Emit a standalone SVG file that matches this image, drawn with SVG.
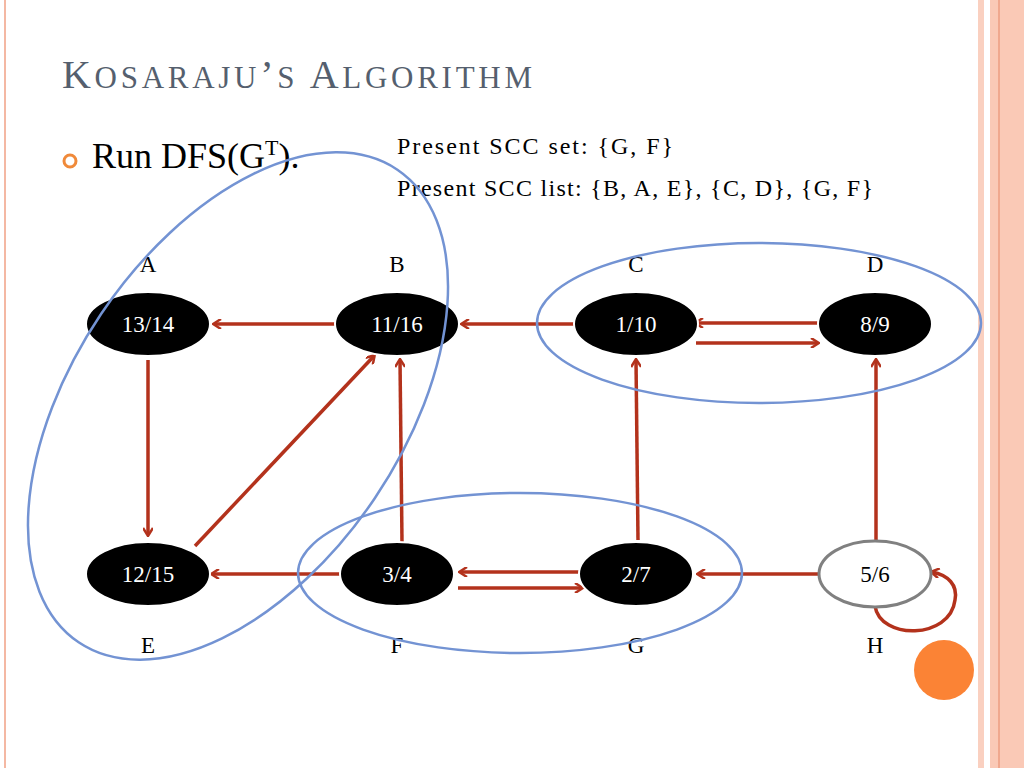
<svg xmlns="http://www.w3.org/2000/svg" width="1024" height="768" viewBox="0 0 1024 768">
<style>
.n{fill:#000;stroke:#fff;stroke-width:2}
.nt{font-family:'Liberation Serif',serif;font-size:23px;fill:#fff;text-anchor:middle}
.lb{font-family:'Liberation Serif',serif;font-size:23px;fill:#000;text-anchor:middle}
.e{stroke:#B3321C;stroke-width:3.5;fill:none;marker-end:url(#a)}
.s{fill:none;stroke:#7393D3;stroke-width:2.5}
</style>
<defs><marker id="a" markerWidth="10" markerHeight="10" refX="8" refY="5" orient="auto" markerUnits="userSpaceOnUse" viewBox="0 0 10 10"><path d="M1,0 L9,5 L1,10" fill="none" stroke="#B3321C" stroke-width="2.5"/></marker></defs>
<rect width="1024" height="768" fill="#fff"/>
<rect x="4" y="0" width="2" height="768" fill="#F4B8A3"/>
<rect x="978" y="0" width="6" height="768" fill="#FAD0C0"/>
<rect x="990" y="0" width="34" height="768" fill="#FAC9B6"/>
<rect x="998" y="0" width="2" height="768" fill="#F0A88E"/>
<text x="62" y="88" font-family="Liberation Serif,serif" font-size="40" fill="#555F6E" textLength="470">K<tspan font-size="31">OSARAJU</tspan>’<tspan font-size="31">S</tspan> A<tspan font-size="31">LGORITHM</tspan></text>
<circle cx="70" cy="161" r="6" fill="none" stroke="#F08A3A" stroke-width="3"/>
<text x="92" y="168" font-family="Liberation Serif,serif" font-size="36">Run DFS(G<tspan font-size="22" dy="-13">T</tspan><tspan dy="13">).</tspan></text>
<text x="397" y="154" font-family="Liberation Serif,serif" font-size="24" textLength="276">Present SCC set: {G, F}</text>
<text x="397" y="196" font-family="Liberation Serif,serif" font-size="24" textLength="476">Present SCC list: {B, A, E}, {C, D}, {G, F}</text>
<g id="connectors">
<line class="e" x1="335" y1="324" x2="214" y2="324"/>
<line class="e" x1="574" y1="324" x2="462" y2="324"/>
<line class="e" x1="820" y1="323" x2="696" y2="323"/>
<line class="e" x1="696" y1="343" x2="818" y2="343"/>
<line class="e" x1="148" y1="360" x2="148" y2="535"/>
<line class="e" x1="195" y1="546" x2="374" y2="356"/>
<line class="e" x1="402" y1="542" x2="400" y2="360"/>
<line class="e" x1="345" y1="574" x2="212" y2="574"/>
<line class="e" x1="584" y1="572" x2="460" y2="572"/>
<line class="e" x1="458" y1="588" x2="582" y2="588"/>
<line class="e" x1="638" y1="540" x2="636" y2="360"/>
<line class="e" x1="820" y1="574" x2="698" y2="574"/>
<line class="e" x1="876" y1="540" x2="876" y2="360"/>
<path class="e" d="M875,606 C880,640 950,640 955,600 C958,585 948,575 932,572"/>
</g>
<g id="A"><ellipse class="n" cx="148" cy="324" rx="62" ry="32"/><text class="nt" x="148" y="332">13/14</text><text class="lb" x="148" y="272">A</text></g>
<g id="B"><ellipse class="n" cx="397" cy="324" rx="62" ry="32"/><text class="nt" x="397" y="332">11/16</text><text class="lb" x="397" y="272">B</text></g>
<g id="C"><ellipse class="n" cx="636" cy="324" rx="62" ry="32"/><text class="nt" x="636" y="332">1/10</text><text class="lb" x="636" y="272">C</text></g>
<g id="D"><ellipse class="n" cx="875" cy="324" rx="57" ry="32"/><text class="nt" x="875" y="332">8/9</text><text class="lb" x="875" y="272">D</text></g>
<g id="E"><ellipse class="n" cx="148" cy="574" rx="62" ry="32"/><text class="nt" x="148" y="582">12/15</text><text class="lb" x="148" y="653">E</text></g>
<g id="F"><ellipse class="n" cx="397" cy="574" rx="57" ry="32"/><text class="nt" x="397" y="582">3/4</text><text class="lb" x="397" y="653">F</text></g>
<g id="G"><ellipse class="n" cx="636" cy="574" rx="57" ry="32"/><text class="nt" x="636" y="582">2/7</text><text class="lb" x="636" y="653">G</text></g>
<g id="H"><ellipse cx="875" cy="574" rx="56" ry="33" fill="#fff" stroke="#808080" stroke-width="3"/><text class="lb" x="875" y="582">5/6</text><text class="lb" x="875" y="653">H</text></g>
<g id="scc">
<ellipse class="s" cx="238" cy="406" rx="285" ry="165" transform="rotate(-56 238 406)"/>
<ellipse class="s" cx="759" cy="323" rx="222" ry="80"/>
<ellipse class="s" cx="520" cy="573" rx="222" ry="80"/>
</g>
<circle cx="944" cy="670" r="30" fill="#FB8335"/>
</svg>
